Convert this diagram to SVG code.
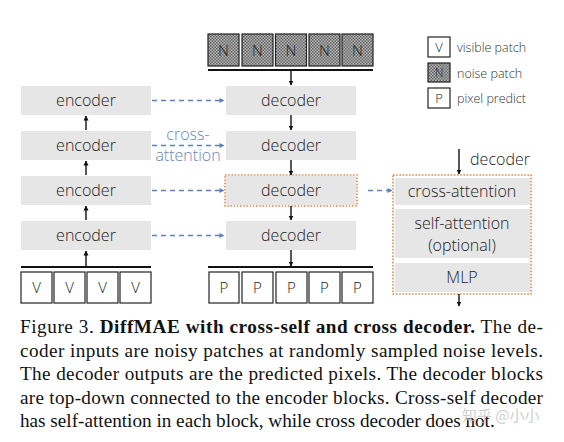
<svg xmlns="http://www.w3.org/2000/svg" width="564" height="442" viewBox="0 0 564 442">
<defs>
  <pattern id="noise" width="3" height="3" patternUnits="userSpaceOnUse">
    <rect width="3" height="3" fill="#b4b4b4"/>
    <rect width="1.5" height="1.5" fill="#666"/>
    <rect x="1.5" y="1.5" width="1.5" height="1.5" fill="#666"/>
  </pattern>
  <marker id="ah" viewBox="0 0 10 10" refX="9" refY="5" markerWidth="5" markerHeight="6" orient="auto" markerUnits="userSpaceOnUse">
    <path d="M0,0 L10,5 L0,10 z" fill="#111"/>
  </marker>
  <marker id="bh" viewBox="0 0 10 10" refX="9" refY="5" markerWidth="6" markerHeight="5" orient="auto" markerUnits="userSpaceOnUse">
    <path d="M0,0 L10,5 L0,10 z" fill="#5b7fbf"/>
  </marker>
</defs>
<style>
  .blk{fill:#e6e6e6}
  .lbl{font-family:"Open Sans","Noto Sans","DejaVu Sans",sans-serif;font-weight:300;font-size:16px;fill:#222;text-anchor:middle}
  .pl{font-family:"Open Sans","Noto Sans",sans-serif;font-weight:300;font-size:15px;fill:#222;text-anchor:middle}
  .pbox{fill:#fff;stroke:#222;stroke-width:1.2}
  .nbox{fill:url(#noise);stroke:#222;stroke-width:1.2}
  .bar{stroke:#111;stroke-width:2}
  .arr{stroke:#111;stroke-width:1.4;fill:none;marker-end:url(#ah)}
  .dash{stroke:#5b7fbf;stroke-width:1.5;stroke-dasharray:5,4;fill:none;marker-end:url(#bh)}
  .orange{fill:none;stroke:#e08a4a;stroke-width:1.6;stroke-dasharray:1.6,1.6}
  .leg{font-family:"Open Sans","Noto Sans",sans-serif;font-weight:300;font-size:12.5px;fill:#333}
  .cap{font-family:"Liberation Serif","Times New Roman",serif;font-size:19.2px;fill:#111}
  .xa{font-family:"Open Sans","Noto Sans",sans-serif;font-weight:300;font-size:16px;fill:#6a86bd;text-anchor:middle}
</style>
<rect width="564" height="442" fill="#fff"/>

<g id="noise-inputs">
  <rect class="nbox" x="208" y="34" width="31" height="32"/>
  <rect class="nbox" x="242" y="34" width="31" height="32"/>
  <rect class="nbox" x="275.5" y="34" width="31" height="32"/>
  <rect class="nbox" x="309" y="34" width="31" height="32"/>
  <rect class="nbox" x="342" y="34" width="31" height="32"/>
  <text class="pl" x="223.5" y="56">N</text>
  <text class="pl" x="257.5" y="56">N</text>
  <text class="pl" x="291" y="56">N</text>
  <text class="pl" x="324.5" y="56">N</text>
  <text class="pl" x="357.5" y="56">N</text>
  <line class="bar" x1="208" y1="70" x2="373" y2="70"/>
</g>

<g id="enc1"><rect class="blk" x="21" y="86" width="130" height="29"/><text class="lbl" x="86" y="106">encoder</text></g>
<g id="enc2"><rect class="blk" x="21" y="131" width="130" height="29"/><text class="lbl" x="86" y="151">encoder</text></g>
<g id="enc3"><rect class="blk" x="21" y="176" width="130" height="29"/><text class="lbl" x="86" y="196">encoder</text></g>
<g id="enc4"><rect class="blk" x="21" y="221" width="130" height="29"/><text class="lbl" x="86" y="241">encoder</text></g>

<g id="dec1"><rect class="blk" x="226" y="86" width="130" height="29"/><text class="lbl" x="291" y="106">decoder</text></g>
<g id="dec2"><rect class="blk" x="226" y="131" width="130" height="29"/><text class="lbl" x="291" y="151">decoder</text></g>
<g id="dec3"><rect class="blk" x="226" y="176" width="130" height="29"/><text class="lbl" x="291" y="196">decoder</text><rect class="orange" x="225" y="175" width="132" height="31"/></g>
<g id="dec4"><rect class="blk" x="226" y="221" width="130" height="29"/><text class="lbl" x="291" y="241">decoder</text></g>

<g id="visible-inputs">
  <line class="bar" x1="21" y1="267" x2="151" y2="267"/>
  <rect class="pbox" x="21" y="272" width="31" height="31"/>
  <rect class="pbox" x="54" y="272" width="31" height="31"/>
  <rect class="pbox" x="87" y="272" width="31" height="31"/>
  <rect class="pbox" x="120" y="272" width="31" height="31"/>
  <text class="pl" x="36.5" y="293">V</text>
  <text class="pl" x="69.5" y="293">V</text>
  <text class="pl" x="102.5" y="293">V</text>
  <text class="pl" x="135.5" y="293">V</text>
</g>

<g id="pixel-outputs">
  <line class="bar" x1="208" y1="267" x2="373" y2="267"/>
  <rect class="pbox" x="209" y="272" width="30" height="31"/>
  <rect class="pbox" x="242" y="272" width="31" height="31"/>
  <rect class="pbox" x="276" y="272" width="31" height="31"/>
  <rect class="pbox" x="309" y="272" width="31" height="31"/>
  <rect class="pbox" x="342" y="272" width="31" height="31"/>
  <text class="pl" x="224" y="293">P</text>
  <text class="pl" x="257.5" y="293">P</text>
  <text class="pl" x="291.5" y="293">P</text>
  <text class="pl" x="324.5" y="293">P</text>
  <text class="pl" x="357.5" y="293">P</text>
</g>

<g id="cross-block">
  <text class="lbl" x="500" y="165">decoder</text>
  <rect class="blk" x="395" y="178" width="135" height="27"/>
  <text class="lbl" x="462" y="197">cross-attention</text>
  <rect class="blk" x="395" y="209" width="135" height="49"/>
  <text class="lbl" x="462" y="229">self-attention</text>
  <text class="lbl" x="462" y="251">(optional)</text>
  <rect class="blk" x="395" y="263" width="135" height="29"/>
  <text class="lbl" x="462" y="283">MLP</text>
  <rect class="orange" x="393" y="175" width="138" height="119"/>
</g>

<g id="legend">
  <rect class="pbox" x="428" y="37" width="22" height="20"/>
  <text class="pl" x="439" y="52" style="font-size:13px">V</text>
  <rect class="nbox" x="428" y="63" width="22" height="19"/>
  <text class="pl" x="439" y="77" style="font-size:12px">N</text>
  <rect class="pbox" x="428" y="88" width="22" height="20"/>
  <text class="pl" x="439" y="103" style="font-size:13px">P</text>
  <text class="leg" x="457" y="52">visible patch</text>
  <text class="leg" x="457" y="78">noise patch</text>
  <text class="leg" x="457" y="103">pixel predict</text>
</g>

<g id="connectors">
  <line class="arr" x1="86" y1="130" x2="86" y2="116"/>
  <line class="arr" x1="86" y1="175" x2="86" y2="161"/>
  <line class="arr" x1="86" y1="220" x2="86" y2="206"/>
  <line class="arr" x1="86" y1="266" x2="86" y2="251"/>
  <line class="arr" x1="291" y1="71" x2="291" y2="85"/>
  <line class="arr" x1="291" y1="115" x2="291" y2="130"/>
  <line class="arr" x1="291" y1="160" x2="291" y2="175"/>
  <line class="arr" x1="291" y1="206" x2="291" y2="220"/>
  <line class="arr" x1="291" y1="250" x2="291" y2="266"/>
  <line class="arr" x1="459" y1="149" x2="459" y2="174"/>
  <line class="arr" x1="459" y1="294" x2="459" y2="306"/>
  <line class="dash" x1="152" y1="100.5" x2="224" y2="100.5"/>
  <line class="dash" x1="152" y1="145.5" x2="224" y2="145.5"/>
  <line class="dash" x1="152" y1="190.5" x2="224" y2="190.5"/>
  <line class="dash" x1="152" y1="235.5" x2="224" y2="235.5"/>
  <line class="dash" x1="368" y1="190.5" x2="392" y2="190.5"/>
  <text class="xa" x="188" y="140">cross-</text>
  <text class="xa" x="188" y="161">attention</text>
</g>

<g id="caption">
  <text class="cap" x="20" y="333" textLength="523" lengthAdjust="spacing">Figure 3. <tspan font-weight="bold">DiffMAE with cross-self and cross decoder.</tspan>  The de-</text>
  <text class="cap" x="20" y="356.5" textLength="523" lengthAdjust="spacing">coder inputs are noisy patches at randomly sampled noise levels.</text>
  <text class="cap" x="20" y="380" textLength="523" lengthAdjust="spacing">The decoder outputs are the predicted pixels. The decoder blocks</text>
  <text class="cap" x="20" y="403.5" textLength="523" lengthAdjust="spacing">are top-down connected to the encoder blocks. Cross-self decoder</text>
  <text class="cap" x="20" y="427">has self-attention in each block, while cross decoder does not.</text>
  <text x="462" y="421" style="font-family:'Noto Sans CJK SC',sans-serif;font-size:15px;fill:#c4c4c4;opacity:0.8">知乎 @小小</text>
</g>
</svg>
